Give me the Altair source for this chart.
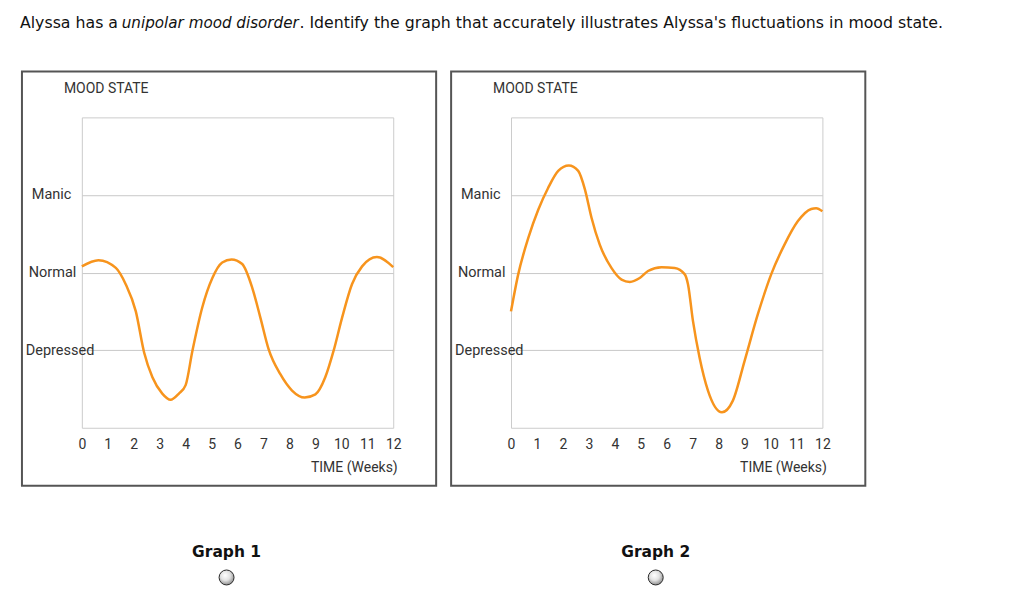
import altair as alt
import pandas as pd

# Mood curves: week number and mood level (Depressed = -1, Normal = 0, Manic = 1)
weeks_1 = [0, 0.64, 1.31, 1.69, 2.08, 2.40, 2.72, 3.10, 3.42, 3.74, 4.00, 4.26, 4.64,
           5.03, 5.41, 5.77, 6.18, 6.57, 6.88, 7.20, 7.65, 8.10, 8.59, 9.00, 9.38,
           9.70, 10.03, 10.41, 10.80, 11.37, 12.0]
mood_1 = [0.08, 0.16, 0.06, -0.15, -0.50, -1.03, -1.35, -1.56, -1.64, -1.56, -1.45, -1.01,
          -0.45, -0.07, 0.13, 0.17, 0.11, -0.20, -0.58, -0.99, -1.31, -1.52, -1.61, -1.57,
          -1.35, -1.01, -0.58, -0.15, 0.08, 0.20, 0.07]

weeks_2 = [0, 0.28, 0.67, 1.05, 1.43, 1.82, 2.23, 2.59, 2.85, 3.10, 3.42, 3.87, 4.26,
           4.58, 4.96, 5.28, 5.80, 6.31, 6.69, 6.82, 7.01, 7.27, 7.59, 8.13, 8.55, 9.00,
           9.51, 10.03, 10.54, 11.05, 11.57, 11.76, 12.0]
mood_2 = [-0.50, -0.02, 0.45, 0.81, 1.09, 1.31, 1.38, 1.31, 1.07, 0.71, 0.36, 0.06, -0.09,
          -0.12, -0.07, 0.02, 0.07, 0.06, -0.02, -0.15, -0.62, -1.10, -1.52, -1.80, -1.65,
          -1.14, -0.54, -0.02, 0.36, 0.66, 0.82, 0.83, 0.79]

tick_weeks = list(range(13))
mood_levels = [-1, 0, 1]
mood_names = ["Depressed", "Normal", "Manic"]
question_parts = [
    "Alyssa has a ",
    "unipolar mood disorder",
    ". Identify the graph that accurately illustrates Alyssa's fluctuations in mood state.",
]
graph_names = ["Graph 1", "Graph 2"]

W, H = 312, 311
ORANGE = "#F7941D"
CHART_FONT = "Roboto"
PAGE_FONT = "DejaVu Sans"
INK = "#333333"

label_expr = " : ".join(
    f"datum.value == {v} ? '{n}'" for v, n in zip(mood_levels, mood_names)
) + " : ''"


def one_row():
    return alt.Data(values=[{}])


def panel(weeks, mood, graph_name, with_question=False):
    df = pd.DataFrame({"week": weeks, "mood": mood})

    x = alt.X(
        "week:Q",
        scale=alt.Scale(domain=[0, 12], nice=False, zero=False),
        axis=alt.Axis(
            values=tick_weeks, grid=False, domain=False, ticks=False,
            labelPadding=10, labelFlush=False, labelFont=CHART_FONT,
            labelFontSize=14, labelColor=INK,
            title="TIME (Weeks)", titleFont=CHART_FONT, titleFontSize=14,
            titleFontWeight="normal", titleColor=INK, titleX=316, titleY=40,
            titleAlign="right", titleBaseline="middle", titleAngle=0,
        ),
    )
    y = alt.Y(
        "mood:Q",
        scale=alt.Scale(domain=[-2, 2], nice=False, zero=False),
        axis=alt.Axis(
            values=mood_levels, labelExpr=label_expr, grid=True,
            gridColor="#c8c8c8", gridWidth=1, domain=False, ticks=False,
            labelFont=CHART_FONT, labelFontSize=14.5, labelColor=INK,
            labelAlign="right", labelBaseline="middle",
            labelPadding={
                "condition": [
                    {"test": "datum.value == -1", "value": -12},
                    {"test": "datum.value == 1", "value": 11},
                ],
                "value": 6,
            },
            title=None,
        ),
    )

    curve = alt.Chart(df).mark_line(
        color=ORANGE, strokeWidth=2.5, interpolate="monotone"
    ).encode(x=x, y=y)

    frame = alt.Chart(one_row()).mark_rect(
        fill="transparent", stroke="#555555", strokeWidth=2
    ).encode(
        x=alt.value(-60), x2=alt.value(355), y=alt.value(-46), y2=alt.value(369)
    )

    heading = alt.Chart(one_row()).mark_text(
        text="MOOD STATE", font=CHART_FONT, fontSize=14, color=INK,
        align="left", baseline="middle",
    ).encode(x=alt.value(-18), y=alt.value(-28))

    name = alt.Chart(one_row()).mark_text(
        text=graph_name, font=PAGE_FONT, fontSize=15.5, fontWeight="bold",
        color="#111111", align="center", baseline="middle",
    ).encode(x=alt.value(145), y=alt.value(435))

    radio = alt.Chart(one_row()).mark_circle(
        size=225, opacity=1, stroke="#2a2a2a", strokeWidth=1,
        fill=alt.RadialGradient(
            gradient="radial",
            stops=[
                alt.GradientStop(color="#ffffff", offset=0),
                alt.GradientStop(color="#e2e2e2", offset=0.5),
                alt.GradientStop(color="#808080", offset=1),
            ],
            x1=0.4, y1=0.35, r1=0, x2=0.45, y2=0.4, r2=0.65,
        ),
    ).encode(x=alt.value(145), y=alt.value(461))

    layers = []
    if with_question:
        # invisible box spanning the whole page so the canvas covers it
        layers.append(
            alt.Chart(one_row()).mark_rect(fill="transparent", strokeWidth=0).encode(
                x=alt.value(-81), x2=alt.value(943),
                y=alt.value(-116), y2=alt.value(499),
            )
        )
        starts = [-62, 40, 218]
        styles = ["normal", "italic", "normal"]
        sizes = [15.8, 15.2, 15.8]
        for part, sx, style, fs in zip(question_parts, starts, styles, sizes):
            layers.append(
                alt.Chart(one_row()).mark_text(
                    text=part, font=PAGE_FONT, fontSize=fs, fontStyle=style,
                    color="#111111", align="left", baseline="middle",
                ).encode(x=alt.value(sx), y=alt.value(-95))
            )
    layers += [frame, curve, heading, name, radio]
    return alt.layer(*layers).properties(width=W, height=H)


chart = alt.hconcat(
    panel(weeks_1, mood_1, graph_names[0], with_question=True),
    panel(weeks_2, mood_2, graph_names[1]),
    spacing=118,
    bounds="flush",
).properties(
    padding=0, background="white"
).configure_view(
    stroke="#cccccc", strokeWidth=1
)

chart.save("out.html", embed_options={"renderer": "svg", "actions": False})
